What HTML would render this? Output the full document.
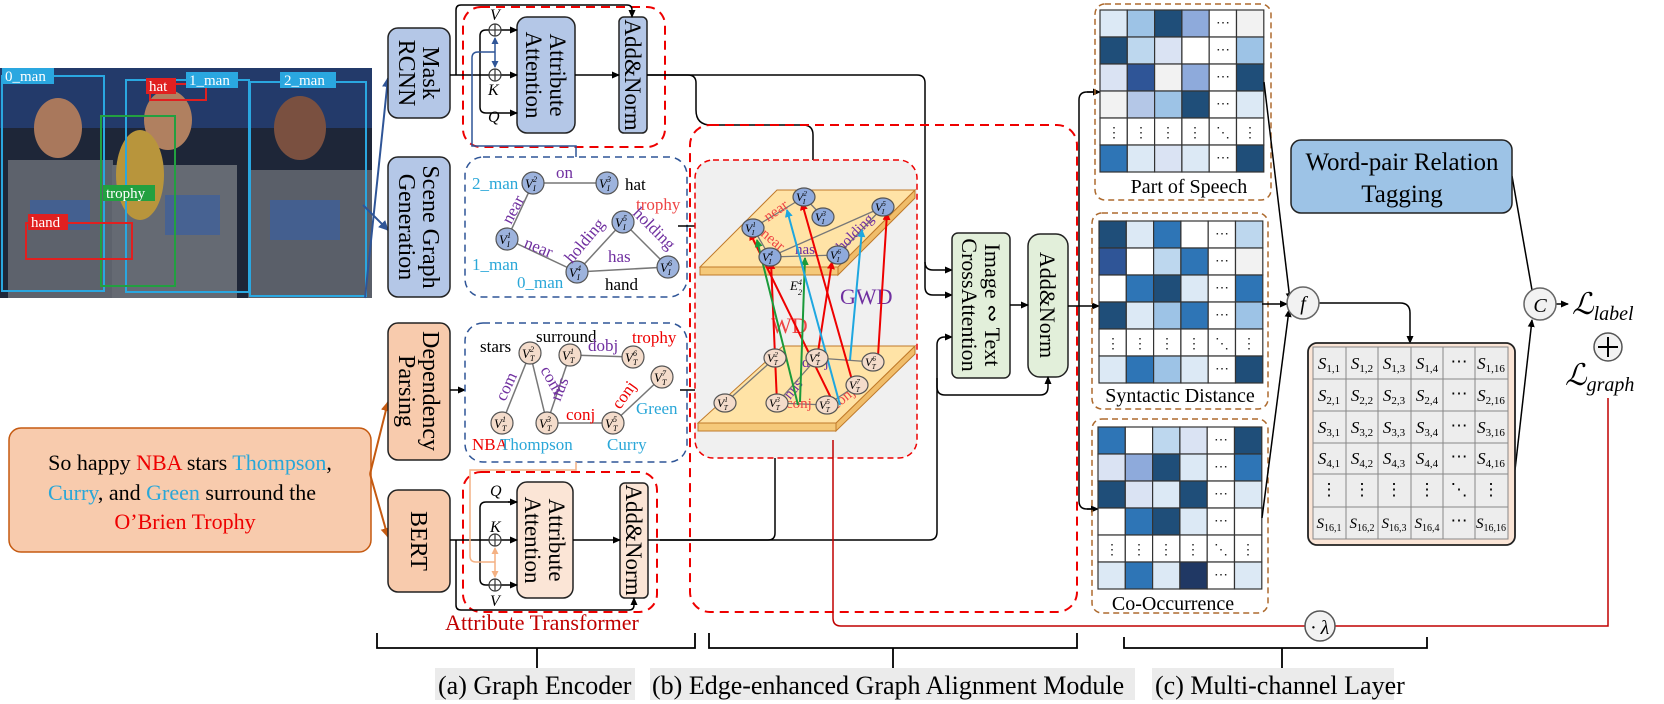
<!DOCTYPE html>
<html><head><meta charset="utf-8"><style>
html,body{margin:0;padding:0;background:#fff;}
svg{display:block;font-family:"Liberation Serif",serif;}
</style></head><body>
<svg width="1664" height="704" viewBox="0 0 1664 704" xmlns="http://www.w3.org/2000/svg">
<defs>
<marker id="ak" markerWidth="8" markerHeight="8" refX="7" refY="4" orient="auto" markerUnits="userSpaceOnUse"><path d="M0,0.5 L8,4 L0,7.5 z" fill="#000"/></marker>
<marker id="ab" markerWidth="10" markerHeight="10" refX="9" refY="5" orient="auto" markerUnits="userSpaceOnUse"><path d="M0,0 L10,5 L0,10 z" fill="#2f5597"/></marker>
<marker id="ao" markerWidth="10" markerHeight="10" refX="9" refY="5" orient="auto" markerUnits="userSpaceOnUse"><path d="M0,0 L10,5 L0,10 z" fill="#c55a11"/></marker>
<marker id="ar" markerWidth="8" markerHeight="8" refX="7" refY="4" orient="auto" markerUnits="userSpaceOnUse"><path d="M0,0 L8,4 L0,8 z" fill="#e00"/></marker>
<marker id="ag" markerWidth="8" markerHeight="8" refX="7" refY="4" orient="auto" markerUnits="userSpaceOnUse"><path d="M0,0 L8,4 L0,8 z" fill="#1a9a3a"/></marker>
<marker id="ac" markerWidth="8" markerHeight="8" refX="7" refY="4" orient="auto" markerUnits="userSpaceOnUse"><path d="M0,0 L8,4 L0,8 z" fill="#1ea7e0"/></marker>
<marker id="abl" markerWidth="7" markerHeight="7" refX="6" refY="3.5" orient="auto" markerUnits="userSpaceOnUse"><path d="M0,0 L7,3.5 L0,7 z" fill="#2f5597"/></marker>
<marker id="aor" markerWidth="7" markerHeight="7" refX="6" refY="3.5" orient="auto" markerUnits="userSpaceOnUse"><path d="M0,0 L7,3.5 L0,7 z" fill="#f4b183"/></marker>
</defs>

<!-- Photo -->
<rect x="0" y="68" width="372" height="230" fill="#1e2638"/>
<rect x="0" y="68" width="372" height="60" fill="#233a6a"/>
<rect x="8" y="160" width="105" height="138" fill="#5d626c"/>
<ellipse cx="58" cy="128" rx="24" ry="30" fill="#a9785c"/>
<rect x="112" y="165" width="125" height="133" fill="#656a73"/>
<ellipse cx="168" cy="120" rx="24" ry="30" fill="#b08060"/>
<ellipse cx="140" cy="175" rx="24" ry="45" fill="#b8953c"/>
<rect x="248" y="170" width="124" height="128" fill="#5a5f69"/>
<ellipse cx="300" cy="128" rx="26" ry="32" fill="#7a5040"/>
<rect x="30" y="200" width="60" height="30" fill="#3a5fa0" opacity="0.7"/>
<rect x="270" y="200" width="70" height="40" fill="#3a5fa0" opacity="0.7"/>
<rect x="165" y="195" width="55" height="40" fill="#3a5fa0" opacity="0.7"/>
<g fill="none" stroke-width="2">
<rect x="2" y="76" width="102" height="215" stroke="#2aa7e0"/>
<rect x="126" y="80" width="123" height="212" stroke="#2aa7e0"/>
<rect x="250" y="82" width="116" height="214" stroke="#2aa7e0"/>
<rect x="150" y="84" width="56" height="16" stroke="#e02020"/>
<rect x="101" y="116" width="74" height="170" stroke="#22a040"/>
<rect x="26" y="223" width="106" height="36" stroke="#e02020"/>
</g>
<rect x="2" y="68" width="52" height="16" fill="#2aa7e0"/><text x="5" y="81" font-size="15" fill="#fff">0_man</text>
<rect x="186" y="72" width="52" height="16" fill="#2aa7e0"/><text x="189" y="85" font-size="15" fill="#fff">1_man</text>
<rect x="280" y="72" width="56" height="16" fill="#2aa7e0"/><text x="284" y="85" font-size="15" fill="#fff">2_man</text>
<rect x="146" y="78" width="30" height="16" fill="#e02020"/><text x="149" y="91" font-size="15" fill="#fff">hat</text>
<rect x="103" y="185" width="52" height="16" fill="#22a040"/><text x="106" y="198" font-size="15" fill="#fff">trophy</text>
<rect x="28" y="214" width="40" height="16" fill="#e02020"/><text x="31" y="227" font-size="15" fill="#fff">hand</text>

<line x1="365" y1="298" x2="388" y2="78" stroke="#2f5597" stroke-width="2" marker-end="url(#ab)"/>
<line x1="363" y1="205" x2="388" y2="230" stroke="#2f5597" stroke-width="2" marker-end="url(#ab)"/>

<rect x="9" y="428" width="362" height="124" rx="12" fill="#f8cbad" stroke="#c55a11" stroke-width="1.5"/>
<text x="190" y="470" font-size="22" text-anchor="middle">So happy <tspan fill="#e00">NBA</tspan> stars <tspan fill="#2aa7d8">Thompson</tspan>,</text>
<text x="182" y="500" font-size="22" text-anchor="middle"><tspan fill="#2aa7d8">Curry</tspan>, and <tspan fill="#2aa7d8">Green</tspan> surround the</text>
<text x="185" y="529" font-size="22" text-anchor="middle" fill="#e00">O’Brien Trophy</text>
<line x1="370" y1="474" x2="388" y2="402" stroke="#c55a11" stroke-width="2" marker-end="url(#ao)"/>
<line x1="370" y1="474" x2="388" y2="537" stroke="#c55a11" stroke-width="2" marker-end="url(#ao)"/>

<g stroke="#222" stroke-width="1.5">
<rect x="388" y="28" width="62" height="90" rx="10" fill="#b4c7e7"/>
<rect x="388" y="157" width="62" height="140" rx="10" fill="#b4c7e7"/>
<rect x="388" y="323" width="62" height="137" rx="10" fill="#f8cbad"/>
<rect x="388" y="490" width="62" height="102" rx="10" fill="#f8cbad"/>
</g>
<g font-size="24" text-anchor="middle">
<text transform="translate(419,73) rotate(90)"><tspan x="0" y="-4">Mask</tspan><tspan x="0" y="20">RCNN</tspan></text>
<text transform="translate(419,227) rotate(90)"><tspan x="0" y="-4">Scene Graph</tspan><tspan x="0" y="20">Generation</tspan></text>
<text transform="translate(419,391) rotate(90)"><tspan x="0" y="-4">Dependency</tspan><tspan x="0" y="20">Parsing</tspan></text>
<text transform="translate(419,541) rotate(90)"><tspan x="0" y="8">BERT</tspan></text>
</g>

<rect x="463" y="7" width="202" height="140" rx="18" fill="none" stroke="#e00" stroke-width="2" stroke-dasharray="9,6"/>
<rect x="517" y="17" width="58" height="116" rx="10" fill="#b4c7e7" stroke="#222" stroke-width="1.5"/>
<rect x="619" y="17" width="28" height="116" rx="5" fill="#b4c7e7" stroke="#222" stroke-width="1.5"/>
<text transform="translate(546,75) rotate(90)" font-size="23" text-anchor="middle"><tspan x="0" y="-4">Attribute</tspan><tspan x="0" y="20">Attention</tspan></text>
<text transform="translate(633,75) rotate(90)" font-size="23" text-anchor="middle"><tspan x="0" y="8">Add&amp;Norm</tspan></text>
<g fill="none" stroke="#000" stroke-width="1.5">
<line x1="450" y1="75" x2="517" y2="75" marker-end="url(#ak)"/>
<path d="M456,75 V10 Q456,5 461,5 H627 Q632,5 632,10 V17" marker-end="url(#ak)"/>
<path d="M491,30 H486 Q480,30 480,36 V107 Q480,113 486,113 H517" marker-end="url(#ak)"/>
<line x1="500" y1="30" x2="517" y2="30" marker-end="url(#ak)"/>
<line x1="575" y1="75" x2="619" y2="75" marker-end="url(#ak)"/>
<path d="M647,75 H688 Q696,75 696,83 V110 Q696,125 711,125 H803 Q813,125 813,135 V175" marker-end="url(#ak)"/>
<path d="M647,75 H917 Q925,75 925,83 V262 Q925,270 933,270 H952" marker-end="url(#ak)"/>
<path d="M925,262 V287 Q925,295 933,295 H952" marker-end="url(#ak)"/>
</g>
<g fill="#fff" stroke="#333" stroke-width="1.2">
<circle cx="495" cy="30" r="6"/><circle cx="495" cy="75" r="6"/>
</g>
<path d="M489,30 H501 M495,24 V36 M489,75 H501 M495,69 V81" stroke="#333" stroke-width="1.2"/>
<g font-size="16" font-style="italic"><text x="490" y="20">V</text><text x="488" y="95">K</text><text x="488" y="122">Q</text></g>
<g fill="none" stroke="#2f5597" stroke-width="1.5">
<path d="M576,157 V146 H472 V58 Q472,52 478,52 H495"/>
<line x1="495" y1="52" x2="495" y2="38" marker-end="url(#abl)"/>
<line x1="495" y1="52" x2="495" y2="67" marker-end="url(#abl)"/>
</g>

<rect x="465" y="157" width="222" height="140" rx="18" fill="none" stroke="#2f5597" stroke-width="1.5" stroke-dasharray="7,5"/>
<g stroke="#777" stroke-width="1.5">
<line x1="533" y1="183" x2="607" y2="183"/><line x1="533" y1="183" x2="507" y2="239"/>
<line x1="507" y1="239" x2="577" y2="272"/><line x1="577" y1="272" x2="623" y2="222"/>
<line x1="577" y1="272" x2="668" y2="267"/><line x1="623" y1="222" x2="668" y2="267"/>
</g>
<g fill="#9db3dd" stroke="#555" stroke-width="1.2">
<circle cx="533" cy="183" r="11"/><circle cx="607" cy="183" r="11"/><circle cx="507" cy="239" r="11"/>
<circle cx="577" cy="272" r="11"/><circle cx="623" cy="222" r="11"/><circle cx="668" cy="267" r="11"/>
</g>
<g font-size="13" font-style="italic">
<text x="525" y="188">V<tspan font-size="8" dy="-6">2</tspan><tspan font-size="8" dx="-4" dy="9">I</tspan></text>
<text x="599" y="188">V<tspan font-size="8" dy="-6">3</tspan><tspan font-size="8" dx="-4" dy="9">I</tspan></text>
<text x="499" y="244">V<tspan font-size="8" dy="-6">1</tspan><tspan font-size="8" dx="-4" dy="9">I</tspan></text>
<text x="569" y="277">V<tspan font-size="8" dy="-6">4</tspan><tspan font-size="8" dx="-4" dy="9">I</tspan></text>
<text x="615" y="227">V<tspan font-size="8" dy="-6">5</tspan><tspan font-size="8" dx="-4" dy="9">I</tspan></text>
<text x="660" y="272">V<tspan font-size="8" dy="-6">6</tspan><tspan font-size="8" dx="-4" dy="9">I</tspan></text>
</g>
<g font-size="17">
<text x="472" y="189" fill="#2aa7d8">2_man</text>
<text x="556" y="178" fill="#7030a0">on</text>
<text x="625" y="190">hat</text>
<text x="636" y="210" fill="#e44">trophy</text>
<text x="472" y="270" fill="#2aa7d8">1_man</text>
<text x="517" y="288" fill="#2aa7d8">0_man</text>
<text x="605" y="290">hand</text>
<text x="608" y="262" fill="#7030a0">has</text>
<text transform="translate(511,225) rotate(-62)" fill="#7030a0">near</text>
<text transform="translate(523,247) rotate(22)" fill="#7030a0">near</text>
<text transform="translate(572,264) rotate(-50)" fill="#7030a0">holding</text>
<text transform="translate(632,214) rotate(45)" fill="#7030a0">holding</text>
</g>
<line x1="678" y1="226" x2="718" y2="226" stroke="#000" stroke-width="1.5" marker-end="url(#ak)"/>

<line x1="450" y1="390" x2="465" y2="390" stroke="#000" stroke-width="1.5" marker-end="url(#ak)"/>
<rect x="465" y="323" width="222" height="139" rx="18" fill="none" stroke="#2f5597" stroke-width="1.5" stroke-dasharray="7,5"/>
<g stroke="#777" stroke-width="1.5">
<line x1="530" y1="353" x2="502" y2="423"/><line x1="530" y1="353" x2="547" y2="423"/>
<line x1="570" y1="355" x2="547" y2="423"/><line x1="570" y1="355" x2="633" y2="357"/>
<line x1="547" y1="423" x2="613" y2="423"/><line x1="613" y1="423" x2="662" y2="377"/>
</g>
<g fill="#f4dccb" stroke="#555" stroke-width="1.2">
<circle cx="530" cy="353" r="11"/><circle cx="570" cy="355" r="11"/><circle cx="633" cy="357" r="11"/>
<circle cx="662" cy="377" r="11"/><circle cx="502" cy="423" r="11"/><circle cx="547" cy="423" r="11"/><circle cx="613" cy="423" r="11"/>
</g>
<g font-size="13" font-style="italic">
<text x="522" y="358">V<tspan font-size="8" dy="-6">2</tspan><tspan font-size="8" dx="-4" dy="9">T</tspan></text>
<text x="562" y="360">V<tspan font-size="8" dy="-6">1</tspan><tspan font-size="8" dx="-4" dy="9">T</tspan></text>
<text x="625" y="362">V<tspan font-size="8" dy="-6">6</tspan><tspan font-size="8" dx="-4" dy="9">T</tspan></text>
<text x="654" y="382">V<tspan font-size="8" dy="-6">7</tspan><tspan font-size="8" dx="-4" dy="9">T</tspan></text>
<text x="494" y="428">V<tspan font-size="8" dy="-6">1</tspan><tspan font-size="8" dx="-4" dy="9">T</tspan></text>
<text x="539" y="428">V<tspan font-size="8" dy="-6">3</tspan><tspan font-size="8" dx="-4" dy="9">T</tspan></text>
<text x="605" y="428">V<tspan font-size="8" dy="-6">5</tspan><tspan font-size="8" dx="-4" dy="9">T</tspan></text>
</g>
<g font-size="17">
<text x="480" y="352">stars</text>
<text x="536" y="342">surround</text>
<text x="588" y="351" fill="#7030a0">dobj</text>
<text x="632" y="343" fill="#e00">trophy</text>
<text x="566" y="420" fill="#e00">conj</text>
<text x="636" y="414" fill="#2aa7d8">Green</text>
<text x="472" y="450" fill="#e00">NBA</text>
<text x="500" y="450" fill="#2aa7d8">Thompson</text>
<text x="607" y="450" fill="#2aa7d8">Curry</text>
<text transform="translate(505,402) rotate(-65)" fill="#7030a0">com</text>
<text transform="translate(540,370) rotate(60)" fill="#7030a0">com</text>
<text transform="translate(560,402) rotate(-68)" fill="#7030a0">nus</text>
<text transform="translate(620,410) rotate(-55)" fill="#e00">conj</text>
</g>
<line x1="680" y1="390" x2="722" y2="390" stroke="#000" stroke-width="1.5" marker-end="url(#ak)"/>

<rect x="463" y="472" width="194" height="140" rx="18" fill="none" stroke="#e00" stroke-width="2" stroke-dasharray="9,6"/>
<rect x="517" y="482" width="56" height="116" rx="10" fill="#fbe5d6" stroke="#222" stroke-width="1.5"/>
<rect x="620" y="483" width="28" height="115" rx="5" fill="#fbe5d6" stroke="#222" stroke-width="1.5"/>
<text transform="translate(545,540) rotate(90)" font-size="23" text-anchor="middle"><tspan x="0" y="-4">Attribute</tspan><tspan x="0" y="20">Attention</tspan></text>
<text transform="translate(634,540) rotate(90)" font-size="23" text-anchor="middle"><tspan x="0" y="8">Add&amp;Norm</tspan></text>
<g fill="none" stroke="#000" stroke-width="1.5">
<line x1="450" y1="540" x2="517" y2="540" marker-end="url(#ak)"/>
<path d="M456,540 V605 Q456,610 461,610 H629 Q634,610 634,605 V598" marker-end="url(#ak)"/>
<path d="M517,502 H486 Q480,502 480,508 V579 Q480,585 486,585 H491" />
<line x1="508" y1="502" x2="517" y2="502" marker-end="url(#ak)"/>
<line x1="500" y1="585" x2="517" y2="585" marker-end="url(#ak)"/>
<line x1="573" y1="540" x2="620" y2="540" marker-end="url(#ak)"/>
<path d="M648,540 H929 Q937,540 937,532 V345 Q937,337 945,337 H952" marker-end="url(#ak)"/>
<path d="M660,540 H768 Q775,540 775,533 V425" marker-end="url(#ak)"/>
</g>
<g fill="#fff" stroke="#333" stroke-width="1.2">
<circle cx="495" cy="540" r="6"/><circle cx="495" cy="585" r="6"/>
</g>
<path d="M489,540 H501 M495,534 V546 M489,585 H501 M495,579 V591" stroke="#333" stroke-width="1.2"/>
<g font-size="16" font-style="italic"><text x="490" y="496">Q</text><text x="490" y="532">K</text><text x="490" y="606">V</text></g>
<g fill="none" stroke="#f4b183" stroke-width="1.5">
<path d="M576,462 V470 H470 V556 Q470,562 476,562 H495"/>
<line x1="495" y1="562" x2="495" y2="548" marker-end="url(#aor)"/>
<line x1="495" y1="562" x2="495" y2="577" marker-end="url(#aor)"/>
</g>
<text x="542" y="630" font-size="22" fill="#c00000" text-anchor="middle">Attribute Transformer</text>

<rect x="690" y="125" width="387" height="487" rx="20" fill="none" stroke="#e00" stroke-width="2" stroke-dasharray="9,6"/>
<rect x="695" y="160" width="222" height="298" rx="18" fill="#f0f0f0" stroke="#e00" stroke-width="1.5" stroke-dasharray="6,4"/>
<path d="M700,267 L838,267 L838,275 L700,275 Z" fill="#f5c97a" stroke="#c07a2a"/>
<path d="M838,267 L915,190 L915,198 L838,275 Z" fill="#f0bd6a" stroke="#c07a2a"/>
<path d="M777,190 L915,190 L838,267 L700,267 Z" fill="#ffe3a6" stroke="#c07a2a"/>
<path d="M698,423 L836,423 L836,431 L698,431 Z" fill="#f5c97a" stroke="#c07a2a"/>
<path d="M836,423 L915,346 L915,354 L836,431 Z" fill="#f0bd6a" stroke="#c07a2a"/>
<path d="M783,346 L915,346 L836,423 L698,423 Z" fill="#ffe3a6" stroke="#c07a2a"/>
<g stroke="#777" stroke-width="1.3">
<line x1="753" y1="228" x2="804" y2="197"/><line x1="804" y1="197" x2="823" y2="217"/>
<line x1="753" y1="228" x2="770" y2="257"/><line x1="770" y1="257" x2="883" y2="207"/>
<line x1="770" y1="257" x2="838" y2="255"/><line x1="838" y1="255" x2="883" y2="207"/>
<line x1="775" y1="358" x2="725" y2="403"/><line x1="775" y1="358" x2="777" y2="403"/>
<line x1="817" y1="358" x2="873" y2="362"/><line x1="817" y1="358" x2="777" y2="403"/>
<line x1="777" y1="403" x2="827" y2="405"/><line x1="827" y1="405" x2="857" y2="385"/>
</g>
<g font-size="15">
<text transform="translate(768,222) rotate(-35)" fill="#e44">near</text>
<text transform="translate(760,235) rotate(40)" fill="#e44">near</text>
<text x="795" y="254" fill="#7030a0">has</text>
<text transform="translate(842,252) rotate(-45)" fill="#7030a0">holding</text>
<text x="802" y="367" fill="#7030a0">dobj</text>
<text transform="translate(790,400) rotate(-50)" fill="#7030a0">nus</text>
<text x="786" y="408" fill="#e44">conj</text>
<text transform="translate(836,410) rotate(-40)" fill="#e44">conj</text>
</g>
<text x="790" y="290" font-size="13" font-style="italic">E<tspan font-size="8" dy="5">2</tspan><tspan font-size="8" dy="-10" dx="-4">4</tspan></text>
<text x="840" y="304" font-size="22" fill="#7030a0">GWD</text>
<text x="771" y="333" font-size="22" fill="#e44">WD</text>
<g stroke-width="2" fill="none">
<line x1="777" y1="403" x2="771" y2="262" stroke="#e00" marker-end="url(#ar)"/>
<line x1="832" y1="400" x2="750" y2="233" stroke="#e00" marker-end="url(#ar)"/>
<line x1="818" y1="352" x2="832" y2="262" stroke="#e00" marker-end="url(#ar)"/>
<line x1="878" y1="356" x2="887" y2="213" stroke="#e00" marker-end="url(#ar)"/>
<line x1="852" y1="380" x2="802" y2="203" stroke="#e00" marker-end="url(#ar)"/>
<line x1="798" y1="405" x2="757" y2="240" stroke="#1a9a3a" marker-end="url(#ag)"/>
<line x1="800" y1="402" x2="805" y2="258" stroke="#1a9a3a" marker-end="url(#ag)"/>
<line x1="840" y1="405" x2="787" y2="210" stroke="#1ea7e0" marker-end="url(#ac)"/>
<line x1="850" y1="360" x2="862" y2="230" stroke="#1ea7e0" marker-end="url(#ac)"/>
</g>
<g fill="#8faadc" stroke="#555" stroke-width="1.2">
<ellipse cx="753" cy="228" rx="11" ry="9"/><ellipse cx="804" cy="197" rx="11" ry="9"/><ellipse cx="823" cy="217" rx="11" ry="9"/>
<ellipse cx="883" cy="207" rx="11" ry="9"/><ellipse cx="770" cy="257" rx="11" ry="9"/><ellipse cx="838" cy="255" rx="11" ry="9"/>
</g>
<g fill="#f4dccb" stroke="#555" stroke-width="1.2">
<ellipse cx="775" cy="358" rx="11" ry="9"/><ellipse cx="817" cy="358" rx="11" ry="9"/><ellipse cx="873" cy="362" rx="11" ry="9"/>
<ellipse cx="857" cy="385" rx="11" ry="9"/><ellipse cx="725" cy="403" rx="11" ry="9"/><ellipse cx="777" cy="403" rx="11" ry="9"/><ellipse cx="827" cy="405" rx="11" ry="9"/>
</g>
<g font-size="12" font-style="italic">
<text x="745" y="232">V<tspan font-size="7" dy="-5">1</tspan><tspan font-size="7" dx="-4" dy="8">I</tspan></text>
<text x="796" y="201">V<tspan font-size="7" dy="-5">2</tspan><tspan font-size="7" dx="-4" dy="8">I</tspan></text>
<text x="815" y="221">V<tspan font-size="7" dy="-5">3</tspan><tspan font-size="7" dx="-4" dy="8">I</tspan></text>
<text x="875" y="211">V<tspan font-size="7" dy="-5">5</tspan><tspan font-size="7" dx="-4" dy="8">I</tspan></text>
<text x="762" y="261">V<tspan font-size="7" dy="-5">4</tspan><tspan font-size="7" dx="-4" dy="8">I</tspan></text>
<text x="830" y="259">V<tspan font-size="7" dy="-5">6</tspan><tspan font-size="7" dx="-4" dy="8">I</tspan></text>
<text x="767" y="362">V<tspan font-size="7" dy="-5">2</tspan><tspan font-size="7" dx="-4" dy="8">T</tspan></text>
<text x="809" y="362">V<tspan font-size="7" dy="-5">4</tspan><tspan font-size="7" dx="-4" dy="8">T</tspan></text>
<text x="865" y="366">V<tspan font-size="7" dy="-5">6</tspan><tspan font-size="7" dx="-4" dy="8">T</tspan></text>
<text x="849" y="389">V<tspan font-size="7" dy="-5">7</tspan><tspan font-size="7" dx="-4" dy="8">T</tspan></text>
<text x="717" y="407">V<tspan font-size="7" dy="-5">1</tspan><tspan font-size="7" dx="-4" dy="8">T</tspan></text>
<text x="769" y="407">V<tspan font-size="7" dy="-5">3</tspan><tspan font-size="7" dx="-4" dy="8">T</tspan></text>
<text x="819" y="409">V<tspan font-size="7" dy="-5">5</tspan><tspan font-size="7" dx="-4" dy="8">T</tspan></text>
</g>

<rect x="952" y="233" width="58" height="145" rx="6" fill="#e2efda" stroke="#222" stroke-width="1.5"/>
<text transform="translate(981,305) rotate(90)" font-size="22" text-anchor="middle"><tspan x="0" y="-4">Image ∾ Text</tspan><tspan x="0" y="19">CrossAttention</tspan></text>
<rect x="1028" y="234" width="40" height="143" rx="12" fill="#e2efda" stroke="#222" stroke-width="1.5"/>
<text transform="translate(1048,305) rotate(90)" font-size="22" text-anchor="middle"><tspan x="0" y="8">Add&amp;Norm</tspan></text>
<g fill="none" stroke="#000" stroke-width="1.5">
<line x1="1010" y1="305" x2="1028" y2="305" marker-end="url(#ak)"/>
<path d="M937,378 V387 Q937,395 945,395 H1040 Q1048,395 1048,387 V377" marker-end="url(#ak)"/>
<line x1="1068" y1="306" x2="1099" y2="306" marker-end="url(#ak)"/>
<path d="M1099,92 H1087 Q1079,92 1079,100 V501 Q1079,509 1087,509 H1099"/>
<line x1="1087" y1="92" x2="1100" y2="92" marker-end="url(#ak)"/>
<line x1="1087" y1="509" x2="1098" y2="509" marker-end="url(#ak)"/>
</g>

<g stroke="#ad6a2e" stroke-width="1.5" fill="none" stroke-dasharray="6,4">
<rect x="1095" y="4" width="176" height="196" rx="10"/>
<rect x="1092" y="213" width="176" height="196" rx="10"/>
<rect x="1092" y="419" width="176" height="194" rx="10"/>
</g>
<g stroke="#333" stroke-width="1.2">
<g transform="translate(1100,10)">
<rect x="0" y="0" width="27.3" height="27" fill="#dce9f5"/><rect x="27.3" y="0" width="27.3" height="27" fill="#9dc3e6"/><rect x="54.6" y="0" width="27.3" height="27" fill="#1f4e79"/><rect x="81.9" y="0" width="27.3" height="27" fill="#8eaadb"/><rect x="109.2" y="0" width="27.3" height="27" fill="#fff"/><rect x="136.5" y="0" width="27.3" height="27" fill="#f2f2f2"/>
<rect x="0" y="27" width="27.3" height="27" fill="#1f4e79"/><rect x="27.3" y="27" width="27.3" height="27" fill="#bdd7ee"/><rect x="54.6" y="27" width="27.3" height="27" fill="#dae3f3"/><rect x="81.9" y="27" width="27.3" height="27" fill="#fff"/><rect x="109.2" y="27" width="27.3" height="27" fill="#fff"/><rect x="136.5" y="27" width="27.3" height="27" fill="#9dc3e6"/>
<rect x="0" y="54" width="27.3" height="27" fill="#dae3f3"/><rect x="27.3" y="54" width="27.3" height="27" fill="#2f5597"/><rect x="54.6" y="54" width="27.3" height="27" fill="#f2f2f2"/><rect x="81.9" y="54" width="27.3" height="27" fill="#8eaadb"/><rect x="109.2" y="54" width="27.3" height="27" fill="#fff"/><rect x="136.5" y="54" width="27.3" height="27" fill="#1f4e79"/>
<rect x="0" y="81" width="27.3" height="27" fill="#f2f2f2"/><rect x="27.3" y="81" width="27.3" height="27" fill="#b4c7e7"/><rect x="54.6" y="81" width="27.3" height="27" fill="#9dc3e6"/><rect x="81.9" y="81" width="27.3" height="27" fill="#1f4e79"/><rect x="109.2" y="81" width="27.3" height="27" fill="#fff"/><rect x="136.5" y="81" width="27.3" height="27" fill="#dce9f5"/>
<rect x="0" y="108" width="27.3" height="27" fill="#fff"/><rect x="27.3" y="108" width="27.3" height="27" fill="#fff"/><rect x="54.6" y="108" width="27.3" height="27" fill="#fff"/><rect x="81.9" y="108" width="27.3" height="27" fill="#fff"/><rect x="109.2" y="108" width="27.3" height="27" fill="#fff"/><rect x="136.5" y="108" width="27.3" height="27" fill="#fff"/>
<rect x="0" y="135" width="27.3" height="27" fill="#2e75b6"/><rect x="27.3" y="135" width="27.3" height="27" fill="#dce9f5"/><rect x="54.6" y="135" width="27.3" height="27" fill="#dae3f3"/><rect x="81.9" y="135" width="27.3" height="27" fill="#dce9f5"/><rect x="109.2" y="135" width="27.3" height="27" fill="#fff"/><rect x="136.5" y="135" width="27.3" height="27" fill="#1f4e79"/>
</g>
<g transform="translate(1099,221)">
<rect x="0" y="0" width="27.3" height="27" fill="#1f4e79"/><rect x="27.3" y="0" width="27.3" height="27" fill="#dce9f5"/><rect x="54.6" y="0" width="27.3" height="27" fill="#2e75b6"/><rect x="81.9" y="0" width="27.3" height="27" fill="#fff"/><rect x="109.2" y="0" width="27.3" height="27" fill="#fff"/><rect x="136.5" y="0" width="27.3" height="27" fill="#bdd7ee"/>
<rect x="0" y="27" width="27.3" height="27" fill="#2f5597"/><rect x="27.3" y="27" width="27.3" height="27" fill="#fff"/><rect x="54.6" y="27" width="27.3" height="27" fill="#bdd7ee"/><rect x="81.9" y="27" width="27.3" height="27" fill="#2e75b6"/><rect x="109.2" y="27" width="27.3" height="27" fill="#fff"/><rect x="136.5" y="27" width="27.3" height="27" fill="#f2f2f2"/>
<rect x="0" y="54" width="27.3" height="27" fill="#fff"/><rect x="27.3" y="54" width="27.3" height="27" fill="#2e75b6"/><rect x="54.6" y="54" width="27.3" height="27" fill="#1f4e79"/><rect x="81.9" y="54" width="27.3" height="27" fill="#dce9f5"/><rect x="109.2" y="54" width="27.3" height="27" fill="#fff"/><rect x="136.5" y="54" width="27.3" height="27" fill="#2e75b6"/>
<rect x="0" y="81" width="27.3" height="27" fill="#1f4e79"/><rect x="27.3" y="81" width="27.3" height="27" fill="#dce9f5"/><rect x="54.6" y="81" width="27.3" height="27" fill="#9dc3e6"/><rect x="81.9" y="81" width="27.3" height="27" fill="#2e75b6"/><rect x="109.2" y="81" width="27.3" height="27" fill="#fff"/><rect x="136.5" y="81" width="27.3" height="27" fill="#9dc3e6"/>
<rect x="0" y="108" width="27.3" height="27" fill="#fff"/><rect x="27.3" y="108" width="27.3" height="27" fill="#fff"/><rect x="54.6" y="108" width="27.3" height="27" fill="#fff"/><rect x="81.9" y="108" width="27.3" height="27" fill="#fff"/><rect x="109.2" y="108" width="27.3" height="27" fill="#fff"/><rect x="136.5" y="108" width="27.3" height="27" fill="#fff"/>
<rect x="0" y="135" width="27.3" height="27" fill="#dce9f5"/><rect x="27.3" y="135" width="27.3" height="27" fill="#2e75b6"/><rect x="54.6" y="135" width="27.3" height="27" fill="#9dc3e6"/><rect x="81.9" y="135" width="27.3" height="27" fill="#dce9f5"/><rect x="109.2" y="135" width="27.3" height="27" fill="#fff"/><rect x="136.5" y="135" width="27.3" height="27" fill="#1f4e79"/>
</g>
<g transform="translate(1098,427)">
<rect x="0" y="0" width="27.3" height="27" fill="#2e75b6"/><rect x="27.3" y="0" width="27.3" height="27" fill="#fff"/><rect x="54.6" y="0" width="27.3" height="27" fill="#bdd7ee"/><rect x="81.9" y="0" width="27.3" height="27" fill="#dae3f3"/><rect x="109.2" y="0" width="27.3" height="27" fill="#fff"/><rect x="136.5" y="0" width="27.3" height="27" fill="#1f4e79"/>
<rect x="0" y="27" width="27.3" height="27" fill="#dae3f3"/><rect x="27.3" y="27" width="27.3" height="27" fill="#8eaadb"/><rect x="54.6" y="27" width="27.3" height="27" fill="#1f4e79"/><rect x="81.9" y="27" width="27.3" height="27" fill="#dce9f5"/><rect x="109.2" y="27" width="27.3" height="27" fill="#fff"/><rect x="136.5" y="27" width="27.3" height="27" fill="#2e75b6"/>
<rect x="0" y="54" width="27.3" height="27" fill="#1f4e79"/><rect x="27.3" y="54" width="27.3" height="27" fill="#dae3f3"/><rect x="54.6" y="54" width="27.3" height="27" fill="#dce9f5"/><rect x="81.9" y="54" width="27.3" height="27" fill="#1f4e79"/><rect x="109.2" y="54" width="27.3" height="27" fill="#fff"/><rect x="136.5" y="54" width="27.3" height="27" fill="#dce9f5"/>
<rect x="0" y="81" width="27.3" height="27" fill="#fff"/><rect x="27.3" y="81" width="27.3" height="27" fill="#2e75b6"/><rect x="54.6" y="81" width="27.3" height="27" fill="#1f4e79"/><rect x="81.9" y="81" width="27.3" height="27" fill="#dce9f5"/><rect x="109.2" y="81" width="27.3" height="27" fill="#fff"/><rect x="136.5" y="81" width="27.3" height="27" fill="#fff"/>
<rect x="0" y="108" width="27.3" height="27" fill="#fff"/><rect x="27.3" y="108" width="27.3" height="27" fill="#fff"/><rect x="54.6" y="108" width="27.3" height="27" fill="#fff"/><rect x="81.9" y="108" width="27.3" height="27" fill="#fff"/><rect x="109.2" y="108" width="27.3" height="27" fill="#fff"/><rect x="136.5" y="108" width="27.3" height="27" fill="#fff"/>
<rect x="0" y="135" width="27.3" height="27" fill="#dce9f5"/><rect x="27.3" y="135" width="27.3" height="27" fill="#2e75b6"/><rect x="54.6" y="135" width="27.3" height="27" fill="#dce9f5"/><rect x="81.9" y="135" width="27.3" height="27" fill="#203864"/><rect x="109.2" y="135" width="27.3" height="27" fill="#fff"/><rect x="136.5" y="135" width="27.3" height="27" fill="#dce9f5"/>
</g>
</g>
<g font-size="14" text-anchor="middle" fill="#222">
<g transform="translate(1100,10)"><text x="123" y="17">⋯</text><text x="123" y="44">⋯</text><text x="123" y="71">⋯</text><text x="123" y="98">⋯</text><text x="123" y="152">⋯</text><text x="14" y="127">⋮</text><text x="41" y="127">⋮</text><text x="68" y="127">⋮</text><text x="95" y="127">⋮</text><text x="123" y="127">⋱</text><text x="150" y="127">⋮</text></g>
<g transform="translate(1099,221)"><text x="123" y="17">⋯</text><text x="123" y="44">⋯</text><text x="123" y="71">⋯</text><text x="123" y="98">⋯</text><text x="123" y="152">⋯</text><text x="14" y="127">⋮</text><text x="41" y="127">⋮</text><text x="68" y="127">⋮</text><text x="95" y="127">⋮</text><text x="123" y="127">⋱</text><text x="150" y="127">⋮</text></g>
<g transform="translate(1098,427)"><text x="123" y="17">⋯</text><text x="123" y="44">⋯</text><text x="123" y="71">⋯</text><text x="123" y="98">⋯</text><text x="123" y="152">⋯</text><text x="14" y="127">⋮</text><text x="41" y="127">⋮</text><text x="68" y="127">⋮</text><text x="95" y="127">⋮</text><text x="123" y="127">⋱</text><text x="150" y="127">⋮</text></g>
</g>
<g font-size="20" text-anchor="middle">
<text x="1189" y="193">Part of Speech</text>
<text x="1180" y="402">Syntactic Distance</text>
<text x="1173" y="610">Co-Occurrence</text>
</g>

<g fill="none" stroke="#000" stroke-width="1.5">
<line x1="1264" y1="82" x2="1290" y2="300" marker-end="url(#ak)"/>
<line x1="1262" y1="304" x2="1287" y2="304" marker-end="url(#ak)"/>
<line x1="1262" y1="518" x2="1289" y2="310" marker-end="url(#ak)"/>
<path d="M1319,303 H1400 Q1410,303 1410,313 V343" marker-end="url(#ak)"/>
<line x1="1512" y1="176" x2="1532" y2="290"/>
<line x1="1515" y1="470" x2="1532" y2="320" marker-end="url(#ak)"/>
<line x1="1556" y1="304" x2="1568" y2="304" marker-end="url(#ak)"/>
</g>
<circle cx="1303" cy="303" r="16" fill="#f2f2f2" stroke="#666" stroke-width="1.5"/>
<text x="1303" y="310" font-size="20" font-style="italic" text-anchor="middle">f</text>
<circle cx="1540" cy="304" r="16" fill="#f2f2f2" stroke="#666" stroke-width="1.5"/>
<text x="1540" y="312" font-size="20" font-style="italic" text-anchor="middle">C</text>
<rect x="1291" y="140" width="221" height="73" rx="10" fill="#9dc3e6" stroke="#222" stroke-width="1.5"/>
<text x="1402" y="170" font-size="25" text-anchor="middle">Word-pair Relation</text>
<text x="1402" y="202" font-size="25" text-anchor="middle">Tagging</text>

<rect x="1308" y="343" width="207" height="202" rx="9" fill="#fbe5d6" stroke="#222" stroke-width="1.8"/>
<rect x="1313" y="347" width="195" height="192" fill="#ededed" stroke="#888"/>
<g stroke="#888" stroke-width="1">
<line x1="1346" y1="347" x2="1346" y2="539"/><line x1="1378" y1="347" x2="1378" y2="539"/><line x1="1411" y1="347" x2="1411" y2="539"/><line x1="1443" y1="347" x2="1443" y2="539"/><line x1="1475" y1="347" x2="1475" y2="539"/>
<line x1="1313" y1="379" x2="1508" y2="379"/><line x1="1313" y1="411" x2="1508" y2="411"/><line x1="1313" y1="443" x2="1508" y2="443"/><line x1="1313" y1="474" x2="1508" y2="474"/><line x1="1313" y1="507" x2="1508" y2="507"/>
</g>
<g font-size="17" font-style="italic" text-anchor="middle">
<text x="1329" y="369">S<tspan font-size="11" font-style="normal" dy="3">1,1</tspan></text><text x="1362" y="369">S<tspan font-size="11" font-style="normal" dy="3">1,2</tspan></text><text x="1394" y="369">S<tspan font-size="11" font-style="normal" dy="3">1,3</tspan></text><text x="1427" y="369">S<tspan font-size="11" font-style="normal" dy="3">1,4</tspan></text><text x="1459" y="367" font-style="normal">⋯</text><text x="1491" y="369">S<tspan font-size="11" font-style="normal" dy="3">1,16</tspan></text>
<text x="1329" y="401">S<tspan font-size="11" font-style="normal" dy="3">2,1</tspan></text><text x="1362" y="401">S<tspan font-size="11" font-style="normal" dy="3">2,2</tspan></text><text x="1394" y="401">S<tspan font-size="11" font-style="normal" dy="3">2,3</tspan></text><text x="1427" y="401">S<tspan font-size="11" font-style="normal" dy="3">2,4</tspan></text><text x="1459" y="399" font-style="normal">⋯</text><text x="1491" y="401">S<tspan font-size="11" font-style="normal" dy="3">2,16</tspan></text>
<text x="1329" y="433">S<tspan font-size="11" font-style="normal" dy="3">3,1</tspan></text><text x="1362" y="433">S<tspan font-size="11" font-style="normal" dy="3">3,2</tspan></text><text x="1394" y="433">S<tspan font-size="11" font-style="normal" dy="3">3,3</tspan></text><text x="1427" y="433">S<tspan font-size="11" font-style="normal" dy="3">3,4</tspan></text><text x="1459" y="431" font-style="normal">⋯</text><text x="1491" y="433">S<tspan font-size="11" font-style="normal" dy="3">3,16</tspan></text>
<text x="1329" y="464">S<tspan font-size="11" font-style="normal" dy="3">4,1</tspan></text><text x="1362" y="464">S<tspan font-size="11" font-style="normal" dy="3">4,2</tspan></text><text x="1394" y="464">S<tspan font-size="11" font-style="normal" dy="3">4,3</tspan></text><text x="1427" y="464">S<tspan font-size="11" font-style="normal" dy="3">4,4</tspan></text><text x="1459" y="462" font-style="normal">⋯</text><text x="1491" y="464">S<tspan font-size="11" font-style="normal" dy="3">4,16</tspan></text>
<text x="1329" y="495" font-style="normal">⋮</text><text x="1362" y="495" font-style="normal">⋮</text><text x="1394" y="495" font-style="normal">⋮</text><text x="1427" y="495" font-style="normal">⋮</text><text x="1459" y="495" font-style="normal">⋱</text><text x="1491" y="495" font-style="normal">⋮</text>
<text x="1329" y="528" font-size="15">S<tspan font-size="10" font-style="normal" dy="3">16,1</tspan></text><text x="1362" y="528" font-size="15">S<tspan font-size="10" font-style="normal" dy="3">16,2</tspan></text><text x="1394" y="528" font-size="15">S<tspan font-size="10" font-style="normal" dy="3">16,3</tspan></text><text x="1427" y="528" font-size="15">S<tspan font-size="10" font-style="normal" dy="3">16,4</tspan></text><text x="1459" y="526" font-style="normal">⋯</text><text x="1491" y="528" font-size="15">S<tspan font-size="10" font-style="normal" dy="3">16,16</tspan></text>
</g>

<text x="1572" y="314" font-size="30" font-style="italic">ℒ<tspan font-size="20" dy="6">label</tspan></text>
<circle cx="1608" cy="347" r="14" fill="#f2f2f2" stroke="#555" stroke-width="1.5"/>
<path d="M1598,347 H1618 M1608,337 V357" stroke="#000" stroke-width="2"/>
<text x="1565" y="385" font-size="30" font-style="italic">ℒ<tspan font-size="20" dy="6">graph</tspan></text>
<path d="M1608,398 V626 H1335 M1305,626 H841 Q833,626 833,618 V440" fill="none" stroke="#c00000" stroke-width="1.5"/>
<circle cx="1320" cy="626" r="15" fill="#f2f2f2" stroke="#555" stroke-width="1.5"/>
<text x="1320" y="634" font-size="20" font-style="italic" text-anchor="middle">· λ</text>

<g fill="none" stroke="#000" stroke-width="1.8">
<path d="M377,633 V648 H695 V633 M537,648 V668"/>
<path d="M709,633 V648 H1077 V633 M893,648 V668"/>
<path d="M1124,637 V648 H1427 V637 M1282,648 V668"/>
</g>
<rect x="435" y="668" width="200" height="32" fill="#ebebeb"/>
<rect x="650" y="668" width="485" height="32" fill="#ebebeb"/>
<rect x="1152" y="668" width="242" height="32" fill="#ebebeb"/>
<g font-size="26">
<text x="438" y="694">(a) Graph Encoder</text>
<text x="652" y="694">(b) Edge-enhanced Graph Alignment Module</text>
<text x="1155" y="694">(c) Multi-channel Layer</text>
</g>
</svg>
</body></html>
